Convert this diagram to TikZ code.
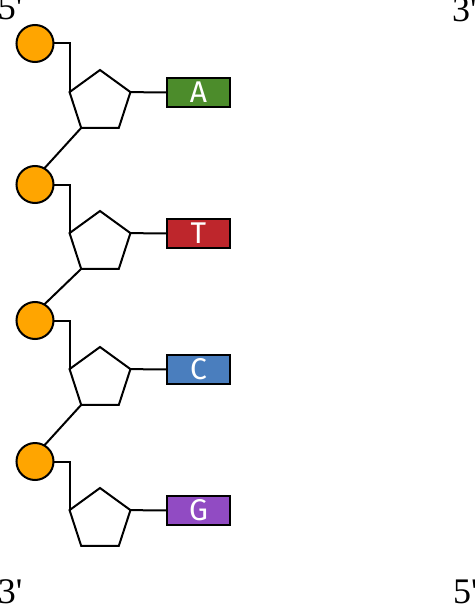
\documentclass[tikz,border=0pt]{standalone}
\usepackage{fontspec}
\usetikzlibrary{shapes.geometric}
\newfontfamily\lblfont{Liberation Serif}[Ligatures=TeXOff]
\newfontfamily\basefont{Fira Sans}
\definecolor{phos}{RGB}{255,165,0}
\definecolor{baseA}{RGB}{76,140,43}
\definecolor{baseT}{RGB}{190,38,44}
\definecolor{baseC}{RGB}{74,126,190}
\definecolor{baseG}{RGB}{145,75,195}
\begin{document}
\begin{tikzpicture}[x=1pt,y=-1pt,
  phosphate/.style={circle,draw=black,line width=2pt,fill=phos,minimum size=37pt,inner sep=0pt,outer sep=0pt},
  sugar/.style={regular polygon,regular polygon sides=5,draw=black,line width=2pt,minimum size=64pt,inner sep=0pt,outer sep=0pt},
  basebox/.style={draw=black,line width=1.6pt,minimum width=63pt,minimum height=29pt,inner sep=0pt,outer sep=0pt,text=white,font=\basefont\fontsize{30}{30}\selectfont},
  bond/.style={line width=2pt},
  endlabel/.style={anchor=base west,inner sep=0pt,outer sep=0pt,font=\lblfont\fontsize{36}{36}\selectfont}]
\useasboundingbox (0,0) rectangle (474,604);
\clip (0,0) rectangle (474,604);
\foreach \i/\off/\col/\ltr in {1/0/baseA/A,2/141/baseT/T,3/277/baseC/C,4/418/baseG/G} {
  \node[phosphate] (p\i) at (35,43.5+\off) {};
  \node[sugar] (s\i) at (100,102+\off) {};
  \node[basebox,fill=\col] (b\i) at (198.5,92.5+\off) {\ltr};
}
\foreach \i in {1,...,4} {
  \draw[bond] (p\i.east) -| (s\i.corner 2);
  \draw[bond] (s\i.corner 5) -- (b\i.west);
}
\foreach \i/\j in {1/2,2/3,3/4} {
  \draw[bond] (s\i.corner 3) -- (p\j.60);
}
\node[endlabel] (l5top) at (-2,20) {5'};
\node[endlabel] (l3top) at (452,22) {3'};
\node[endlabel] (l3bot) at (-2,603) {3'};
\node[endlabel] (l5bot) at (453,603) {5'};
\end{tikzpicture}
\end{document}
